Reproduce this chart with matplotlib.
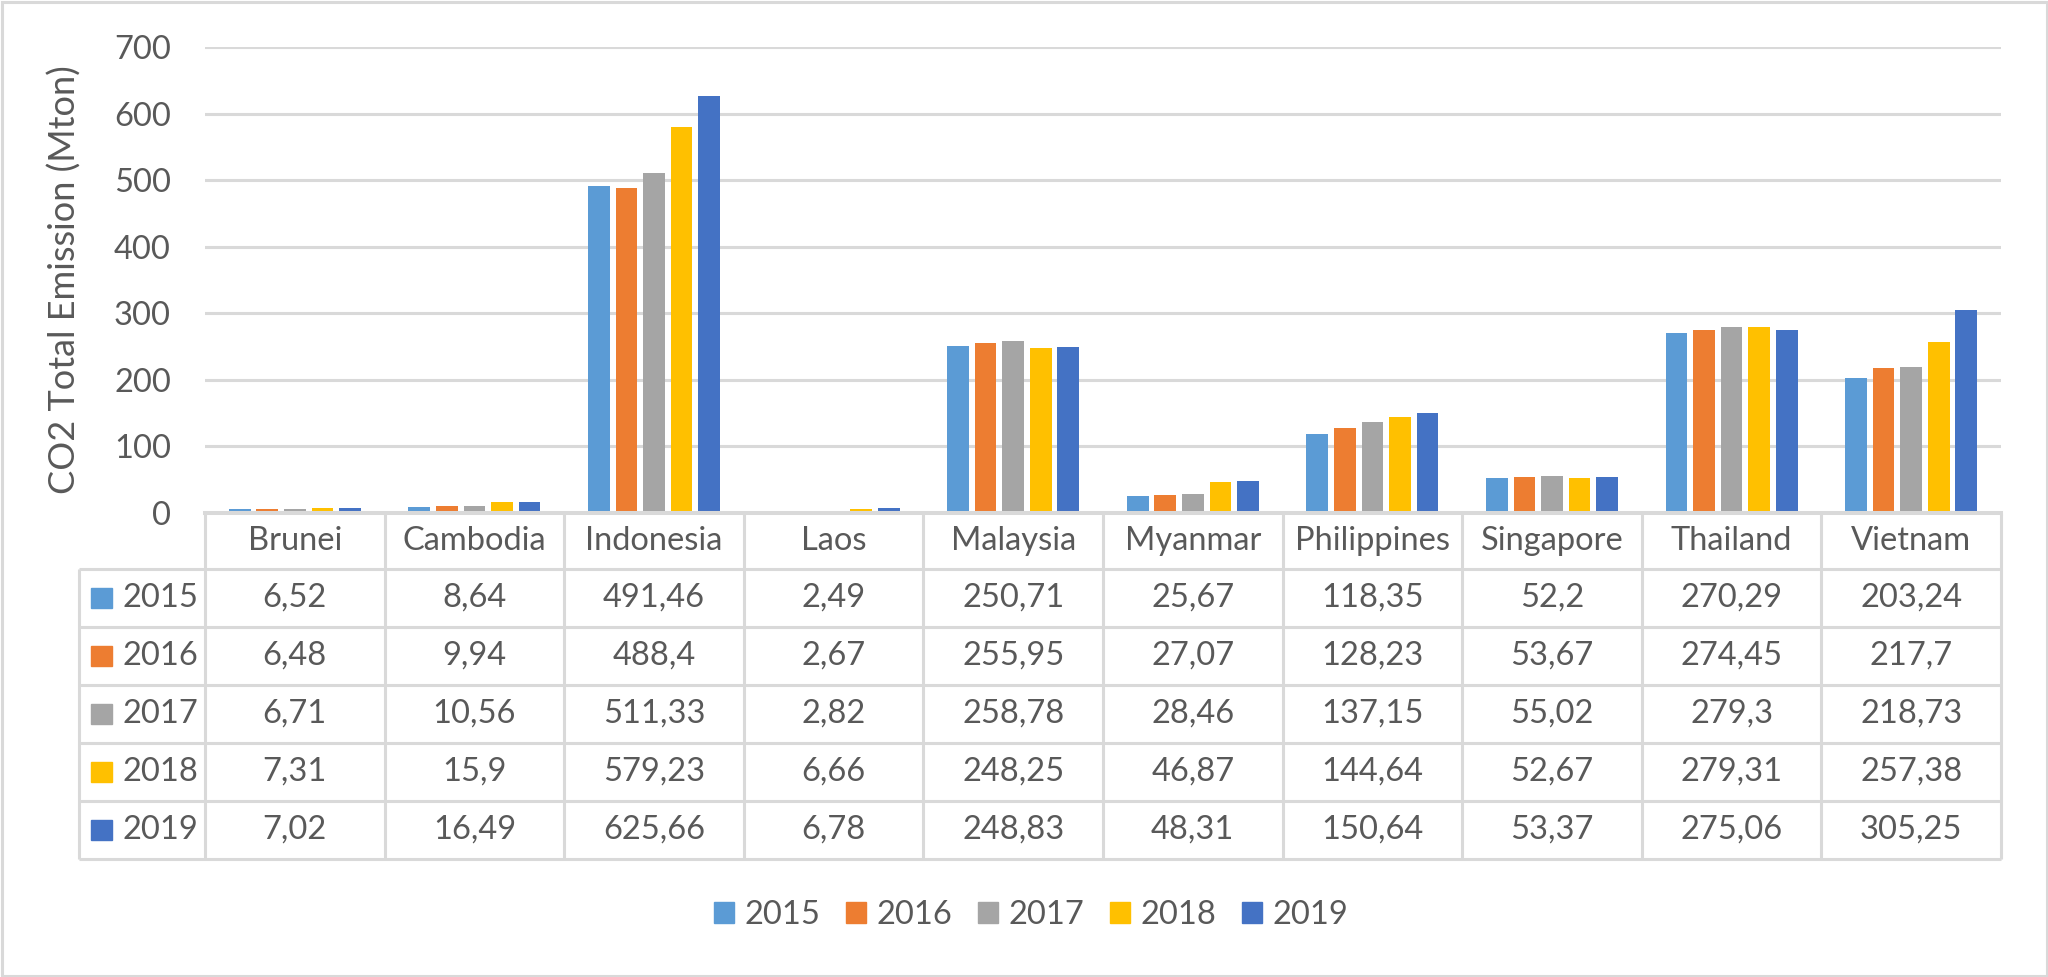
import matplotlib.pyplot as plt
import numpy as np
from matplotlib.patches import Patch, Rectangle

# === DATA ===
countries = ["Brunei", "Cambodia", "Indonesia", "Laos", "Malaysia", "Myanmar",
             "Philippines", "Singapore", "Thailand", "Vietnam"]
years = ["2015", "2016", "2017", "2018", "2019"]
em_2015 = [6.52, 8.64, 491.46, 2.49, 250.71, 25.67, 118.35, 52.2, 270.29, 203.24]
em_2016 = [6.48, 9.94, 488.4, 2.67, 255.95, 27.07, 128.23, 53.67, 274.45, 217.7]
em_2017 = [6.71, 10.56, 511.33, 2.82, 258.78, 28.46, 137.15, 55.02, 279.3, 218.73]
em_2018 = [7.31, 15.9, 579.23, 6.66, 248.25, 46.87, 144.64, 52.67, 279.31, 257.38]
em_2019 = [7.02, 16.49, 625.66, 6.78, 248.83, 48.31, 150.64, 53.37, 275.06, 305.25]
series = [em_2015, em_2016, em_2017, em_2018, em_2019]
colors = ["#5B9BD5", "#ED7D31", "#A5A5A5", "#FFC000", "#4472C4"]

# === LAYOUT (pixels) ===
W, H = 2048, 977
PL, PR, PT, PB = 205, 2001, 47, 513       # plot area
LBL_L = 79                                 # left edge of row-label column
HDR_B = 569                                # header row bottom
ROW_H = 58
TXT = "#595959"
GRID = "#D9D9D9"
FS = 23.5

plt.rcParams["font.family"] = ["Lato", "DejaVu Sans"]

fig = plt.figure(figsize=(W / 100, H / 100), dpi=100)

ax = fig.add_axes([PL / W, 1 - PB / H, (PR - PL) / W, (PB - PT) / H])
n = len(series)
bw = 0.121
step = 0.1535
x = np.arange(len(countries))
for i, (vals, c) in enumerate(zip(series, colors)):
    ax.bar(x + (i - (n - 1) / 2) * step, vals, width=bw, color=c, zorder=2)

ax.set_xlim(-0.5, len(countries) - 0.5)
ax.set_ylim(0, 700)
ax.set_yticks(range(0, 701, 100))
ax.set_xticks([])
ax.set_axisbelow(True)
ax.yaxis.grid(True, color=GRID, lw=2.2)
ax.tick_params(axis="y", length=0, pad=24.5, labelsize=FS, labelcolor=TXT)
for s in ax.spines.values():
    s.set_visible(False)
# baseline sits on top of the bars, like in Excel (hides the tiny Laos bars)
ax.spines["bottom"].set_visible(True)
ax.spines["bottom"].set_color(GRID)
ax.spines["bottom"].set_linewidth(2.9)
ax.spines["bottom"].set_zorder(5)
ax.set_ylabel("CO2 Total Emission (Mton)", fontsize=26, color=TXT)
ax.yaxis.set_label_coords((82 - PL) / (PR - PL), 0.5)

# === DATA TABLE (pixel overlay) ===
tb = fig.add_axes([0, 0, 1, 1], zorder=-1)
tb.set_xlim(0, W)
tb.set_ylim(H, 0)
tb.axis("off")

col_w = (PR - PL) / len(countries)
col_edges = [PL + k * col_w for k in range(len(countries) + 1)]
row_edges = [HDR_B + k * ROW_H for k in range(len(years) + 1)]
lw = 2.2

tb.hlines(row_edges, LBL_L, PR, color=GRID, lw=lw)
tb.vlines(col_edges, PB, row_edges[-1], color=GRID, lw=lw)
tb.vlines(LBL_L, HDR_B, row_edges[-1], color=GRID, lw=lw)

for k, name in enumerate(countries):
    cx = (col_edges[k] + col_edges[k + 1]) / 2
    tb.text(cx, (PB + HDR_B) / 2, name, ha="center", va="center", fontsize=FS, color=TXT)
    for r, vals in enumerate(series):
        cy = (row_edges[r] + row_edges[r + 1]) / 2
        lab = f"{vals[k]:g}".replace(".", ",")
        tb.text(cx, cy, lab, ha="center", va="center", fontsize=FS, color=TXT)

for r, (yr, c) in enumerate(zip(years, colors)):
    cy = (row_edges[r] + row_edges[r + 1]) / 2
    tb.add_patch(Rectangle((91, cy - 10), 21, 20, color=c))
    tb.text(122, cy, yr, ha="left", va="center", fontsize=FS, color=TXT)

# outer chart frame
tb.add_patch(Rectangle((1.5, 1.5), W - 3, H - 3, fill=False, ec=GRID, lw=2.2))

# === LEGEND ===
handles = [Patch(color=c, label=y) for y, c in zip(years, colors)]
fig.legend(handles=handles, loc="center", ncol=5, frameon=False,
           bbox_to_anchor=(1031 / W, 1 - 915 / H), fontsize=FS, labelcolor=TXT,
           handlelength=0.62, handleheight=0.62, handletextpad=0.3,
           columnspacing=0.8)

fig.savefig("out.png", dpi=100)
